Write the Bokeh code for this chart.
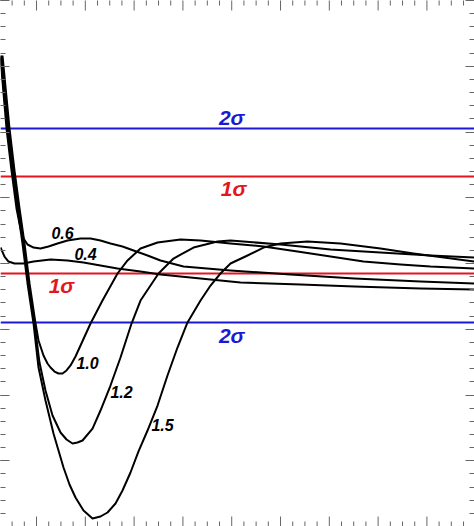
from bokeh.plotting import figure
from bokeh.models import Range1d, LinearAxis, FixedTicker
from bokeh.core.properties import value
from bokeh.embed import file_html
from bokeh.resources import INLINE

# ---- axis ticks (no labels shown in the original) ----
x_major = [0, 1, 2, 3, 4, 5, 6, 7, 8]
x_minor = [i * 0.25 for i in range(-2, 36) if i % 4 != 0]
y_major = [0, 1, 2, 3, 4, 5, 6, 7, 8]
y_minor = [i * 0.2 for i in range(0, 41)]

# ---- significance levels ----
two_sigma_hi = 6.053
one_sigma_hi = 5.323
one_sigma_lo = 3.848
two_sigma_lo = 3.103

# ---- curves ----
x_15 = [-0.738, -0.594, -0.492, -0.389, -0.287, -0.184, -0.061, 0.041, 0.184, 0.348, 0.553, 0.676,
        0.799, 0.963, 1.148, 1.311, 1.455, 1.619, 1.762, 1.926, 2.090, 2.275, 2.480, 2.684, 2.889,
        3.094, 3.361, 3.566, 3.770, 3.975, 4.324, 4.652, 5.000, 5.553, 6.230, 7.049, 7.725, 8.975]
y_15 = [7.163, 6.053, 5.414, 4.837, 4.304, 3.696, 3.087, 2.418, 1.916, 1.414, 0.897, 0.639,
        0.441, 0.243, 0.122, 0.152, 0.213, 0.350, 0.548, 0.821, 1.141, 1.460, 1.840, 2.297, 2.722,
        3.103, 3.437, 3.665, 3.848, 4.000, 4.122, 4.243, 4.304, 4.335, 4.304, 4.228, 4.152, 4.030]

x_12 = [-0.717, -0.574, -0.471, -0.369, -0.266, -0.164, -0.041, 0.061, 0.184, 0.328, 0.492, 0.615,
        0.738, 0.840, 0.943, 1.148, 1.311, 1.516, 1.721, 1.947, 2.131, 2.500, 2.807, 3.217, 3.709,
        3.975, 5.000, 6.025, 7.049, 8.074, 8.975]
y_12 = [7.163, 6.053, 5.414, 4.837, 4.304, 3.696, 3.087, 2.494, 2.068, 1.688, 1.430, 1.323,
        1.262, 1.278, 1.308, 1.490, 1.764, 2.144, 2.570, 3.087, 3.437, 3.848, 4.076, 4.243, 4.335,
        4.350, 4.289, 4.213, 4.167, 4.122, 4.091]

x_10 = [-0.697, -0.553, -0.451, -0.348, -0.246, -0.143, -0.020, 0.041, 0.143, 0.225, 0.287, 0.369,
        0.451, 0.533, 0.615, 0.697, 0.799, 0.902, 1.107, 1.352, 1.660, 1.865, 2.131, 2.480, 2.951,
        3.361, 3.975, 4.652, 5.348, 6.025, 6.701, 7.459, 8.074, 8.975]
y_10 = [7.163, 6.053, 5.414, 4.837, 4.304, 3.696, 3.087, 2.829, 2.601, 2.479, 2.418, 2.357,
        2.327, 2.327, 2.373, 2.449, 2.586, 2.753, 3.087, 3.437, 3.848, 4.046, 4.228, 4.319, 4.365,
        4.350, 4.304, 4.259, 4.183, 4.106, 4.030, 3.985, 3.954, 3.924]

x_06 = [-0.738, -0.615, -0.512, -0.410, -0.328, -0.266, -0.184, -0.061, 0.082, 0.246, 0.430, 0.635,
        0.902, 1.107, 1.311, 1.516, 1.762, 1.988, 2.275, 2.541, 3.012, 3.975, 5.205, 6.516, 7.869,
        8.975]
y_06 = [7.133, 6.053, 5.414, 4.837, 4.532, 4.380, 4.289, 4.243, 4.228, 4.259, 4.304, 4.350,
        4.380, 4.380, 4.350, 4.304, 4.259, 4.198, 4.122, 4.046, 3.954, 3.894, 3.833, 3.772, 3.726,
        3.696]

x_04 = [-0.738, -0.656, -0.574, -0.451, -0.266, -0.061, 0.287, 0.635, 0.963, 1.311, 1.660, 2.131,
        2.541, 3.361, 4.180, 5.410, 6.516, 7.869, 8.975]
y_04 = [4.243, 4.106, 4.030, 4.000, 4.000, 4.030, 4.061, 4.046, 4.015, 3.970, 3.924, 3.878,
        3.833, 3.772, 3.711, 3.681, 3.650, 3.620, 3.605]

# ---- curve labels ----
curve_labels = ["0.6", "0.4", "1.0", "1.2", "1.5"]
curve_label_x = [0.533, 1.004, 1.045, 1.742, 2.582]
curve_label_y = [4.471, 4.152, 2.494, 2.053, 1.551]

sigma_labels = ["2σ", "1σ", "1σ", "2σ"]
sigma_label_x = [4.000, 4.037, 0.512, 4.000]
sigma_label_y = [6.221, 5.141, 3.665, 2.905]
BLUE = "#1a1ad6"
RED = "#e3161e"
sigma_colors = [BLUE, RED, RED, BLUE]

W, H = 474, 526
X0, X1, Y0, Y1 = -0.738, 8.975, 0.0, 8.0

p = figure(width=W, height=H, x_range=Range1d(X0, X1), y_range=Range1d(Y0, Y1),
           output_backend="svg", toolbar_location=None, min_border=0, title=None,
           x_axis_type=None, y_axis_type=None)
p.outline_line_color = None
p.background_fill_color = "white"
p.border_fill_color = "white"

def make_axis(ticks, minor, major_len):
    ax = LinearAxis(ticker=FixedTicker(ticks=ticks, minor_ticks=minor))
    ax.major_label_text_font_size = "0px"
    ax.major_label_overrides = {t: "" for t in ticks}
    ax.major_label_standoff = 0
    ax.major_tick_in = major_len
    ax.major_tick_out = 0
    ax.minor_tick_in = 5
    ax.minor_tick_out = 0
    ax.axis_line_color = None
    ax.major_tick_line_color = "#666666"
    ax.minor_tick_line_color = "#666666"
    return ax

p.add_layout(make_axis(y_major, y_minor, 9), "left")
p.add_layout(make_axis(y_major, y_minor, 9), "right")

# bottom tick marks as short segments pointing into the plot
tick_col = "#666666"
unit_per_px = (Y1 - Y0) / H
for ticks, length in ((x_major, 10), (x_minor, 5)):
    n = len(ticks)
    dy = length * unit_per_px
    p.segment(x0=ticks, y0=[Y0] * n, x1=ticks, y1=[Y0 + dy] * n,
              line_color=tick_col, line_width=1)

# top tick marks drawn as screen-sized rectangles hanging from the top edge
for ticks, length in ((x_major, 10), (x_minor, 5)):
    n = len(ticks)
    p.rect(x=ticks, y=[Y1] * n, width=1, height=2 * length,
           width_units="screen", height_units="screen",
           fill_color=tick_col, line_color=None)

x_span = [X0, X1]
p.line(x_span, [two_sigma_hi, two_sigma_hi], line_color=BLUE, line_width=2)
p.line(x_span, [one_sigma_hi, one_sigma_hi], line_color=RED, line_width=1.8)
p.line(x_span, [one_sigma_lo, one_sigma_lo], line_color=RED, line_width=1.8)
p.line(x_span, [two_sigma_lo, two_sigma_lo], line_color=BLUE, line_width=2)

for xs, ys in [(x_04, y_04), (x_06, y_06), (x_10, y_10), (x_12, y_12), (x_15, y_15)]:
    p.line(xs, ys, line_color="black", line_width=2, line_join="round")

p.text(curve_label_x, curve_label_y, text=curve_labels, text_font=value("Liberation Sans"),
       text_font_style="bold italic", text_font_size="16px", text_align="center",
       text_baseline="middle", text_color="black")
p.text(sigma_label_x, sigma_label_y, text=sigma_labels, text_font=value("Liberation Sans"),
       text_font_style="bold italic", text_font_size="21px", text_align="center",
       text_baseline="middle", text_color=sigma_colors)

open("out.html", "w").write(file_html(p, INLINE))
